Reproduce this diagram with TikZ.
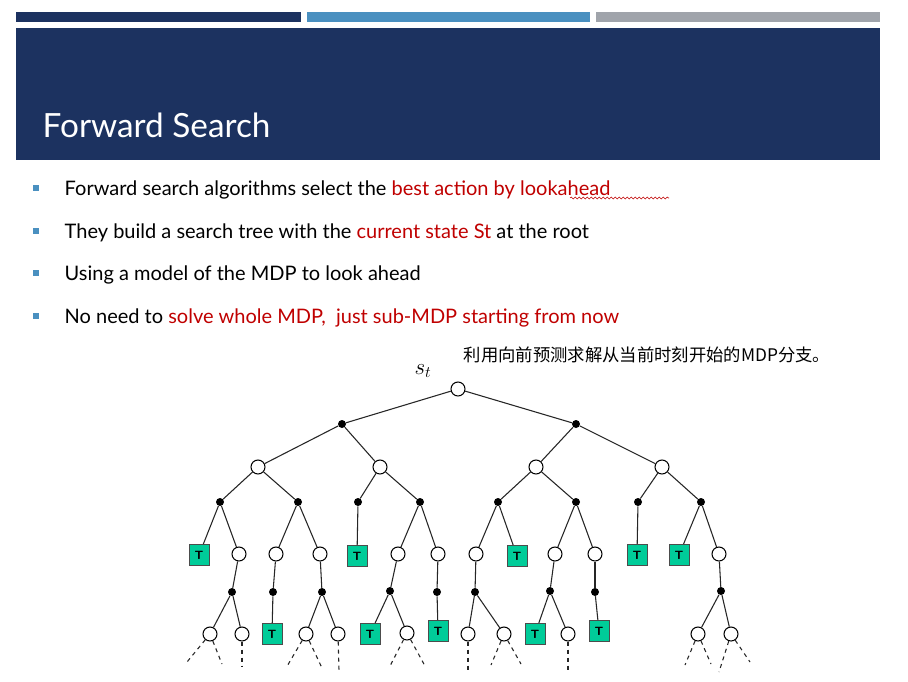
\documentclass[tikz,border=0pt]{standalone}
\usepackage{fontspec}
\setmainfont{Lato}
\newfontfamily\cjk{Noto Sans CJK SC}
\newfontfamily\serifit{Liberation Serif}
\usetikzlibrary{decorations.pathmorphing}
\definecolor{navy}{HTML}{1C3260}
\definecolor{midblue}{HTML}{4A90C0}
\definecolor{bargray}{HTML}{A0A4AB}
\definecolor{redtx}{HTML}{C00000}
\definecolor{teal}{HTML}{00CC99}
\begin{document}
\begin{tikzpicture}[x=0.75pt,y=-0.75pt,
  st/.style={circle,draw,thick,fill=white,minimum size=10.5pt,inner sep=0pt},
  dec/.style={circle,fill=black,minimum size=6pt,inner sep=0pt},
  term/.style={draw=black!70,fill=teal,minimum width=15pt,minimum height=16pt,inner sep=0pt,font=\sffamily\bfseries\small},
  edge/.style={thick,black!85},
  dsh/.style={thick,dashed,black!85},
  bul/.style={anchor=base west,font=\fontsize{15}{18}\selectfont},
  sq/.style={fill=midblue,minimum size=5pt,inner sep=0pt}]
\useasboundingbox (0,0) rectangle (908,682);
\fill[white] (0,0) rectangle (908,682);
\fill[navy] (16,12) rectangle (301,22);
\fill[midblue] (307,12) rectangle (590,22);
\fill[bargray] (596,12) rectangle (880,22);
\fill[navy] (16,28) rectangle (880,160);
\node[anchor=base west,text=white,font=\fontsize{25}{30}\selectfont] (title) at (38,137) {Forward Search};
\node[sq] (q1) at (36,188) {};
\node[sq] (q2) at (36,231) {};
\node[sq] (q3) at (36,273) {};
\node[sq] (q4) at (36,316) {};
\node[bul] (l1) at (60,195) {Forward search algorithms select the \textcolor{redtx}{best action by lookahead}};
\node[bul] (l2) at (60,238) {They build a search tree with the \textcolor{redtx}{current state St} at the root};
\node[bul] (l3) at (60,280) {Using a model of the MDP to look ahead};
\node[bul] (l4) at (60,323) {No need to \textcolor{redtx}{solve whole MDP,\ \ just sub-MDP starting from now}};
\coordinate (w1) at (570,198); \coordinate (w2) at (669,198);
\draw[redtx,decorate,decoration={snake,amplitude=0.7pt,segment length=3pt}] (w1) -- (w2);
\node[anchor=base west,font=\cjk\fontsize{13}{15}\selectfont] (cn) at (459,361) {利用向前预测求解从当前时刻开始的MDP分支。};
\node[font=\serifit\itshape\fontsize{17}{20}\selectfont] (lab) at (423,371) {$s_t$};
% tree
\node[st] (r) at (458,389) {};
\foreach \n/\x/\y in {a1/342/424,a2/576/424,b1/220/502,b2/298/502,b3/358/502,b4/420/502,b5/498/502,b6/576/502,b7/638/502,b8/701/502,
 d1/232/592,d2/273/592,d3/322/592,d4/390/591,d5/437/592,d6/475/592,d7/550/591,d8/595/592,d9/721/591}
  \node[dec] (\n) at (\x,\y) {};
\foreach \n/\x/\y in {s1/258/467,s2/380/467,s3/536/467,s4/662/467,
 c1/239/554,c2/276/554,c3/320/554,c4/398/554,c5/438/554,c6/476/554,c7/555/554,c8/595/554,c9/719/554,
 e1/210/634,e2/242/634,e3/306/634,e4/338/634,e5/407/633,e6/468/634,e7/504/634,e8/568/634,e9/698/634,e10/731/634}
  \node[st] (\n) at (\x,\y) {};
\foreach \n/\x/\y in {t1/199/555,t2/357/556,t3/517/556,t4/637/555,t5/679/555,t6/272/634,t7/370/634,t8/438/631,t9/535/634,t10/599/631}
  \node[term] (\n) at (\x,\y) {T};
\foreach \p/\c in {r/a1,r/a2,a1/s1,a1/s2,a2/s3,a2/s4,s1/b1,s1/b2,s2/b3,s2/b4,s3/b5,s3/b6,s4/b7,s4/b8,
 b1/t1,b1/c1,b2/c2,b2/c3,b3/t2,b4/c4,b4/c5,b5/c6,b5/t3,b6/c7,b6/c8,b7/t4,b8/t5,b8/c9,
 c1/d1,c2/d2,c3/d3,c4/d4,c5/d5,c6/d6,c7/d7,c8/d8,c9/d9,
 d1/e1,d1/e2,d2/t6,d3/e3,d3/e4,d4/t7,d4/e5,d5/t8,d6/e6,d6/e7,d7/t9,d7/e8,d8/t10,d9/e9,d9/e10}
  \draw[edge] (\p) -- (\c);
\foreach \n/\x/\y in {z1/187/662,z2/222/664,z3/242/667,z4/286/668,z5/322/668,z6/339/670,z7/389/668,z8/425/666,
 z9/468/670,z10/491/665,z11/521/664,z12/568/670,z13/685/665,z14/711/664,z15/719/672,z16/750/662}
  \coordinate (\n) at (\x,\y);
\foreach \p/\c in {e1/z1,e1/z2,e2/z3,e3/z4,e3/z5,e4/z6,e5/z7,e5/z8,e6/z9,e7/z10,e7/z11,e8/z12,e9/z13,e9/z14,e10/z15,e10/z16}
  \draw[dsh] (\p) -- (\c);
\end{tikzpicture}
\end{document}
